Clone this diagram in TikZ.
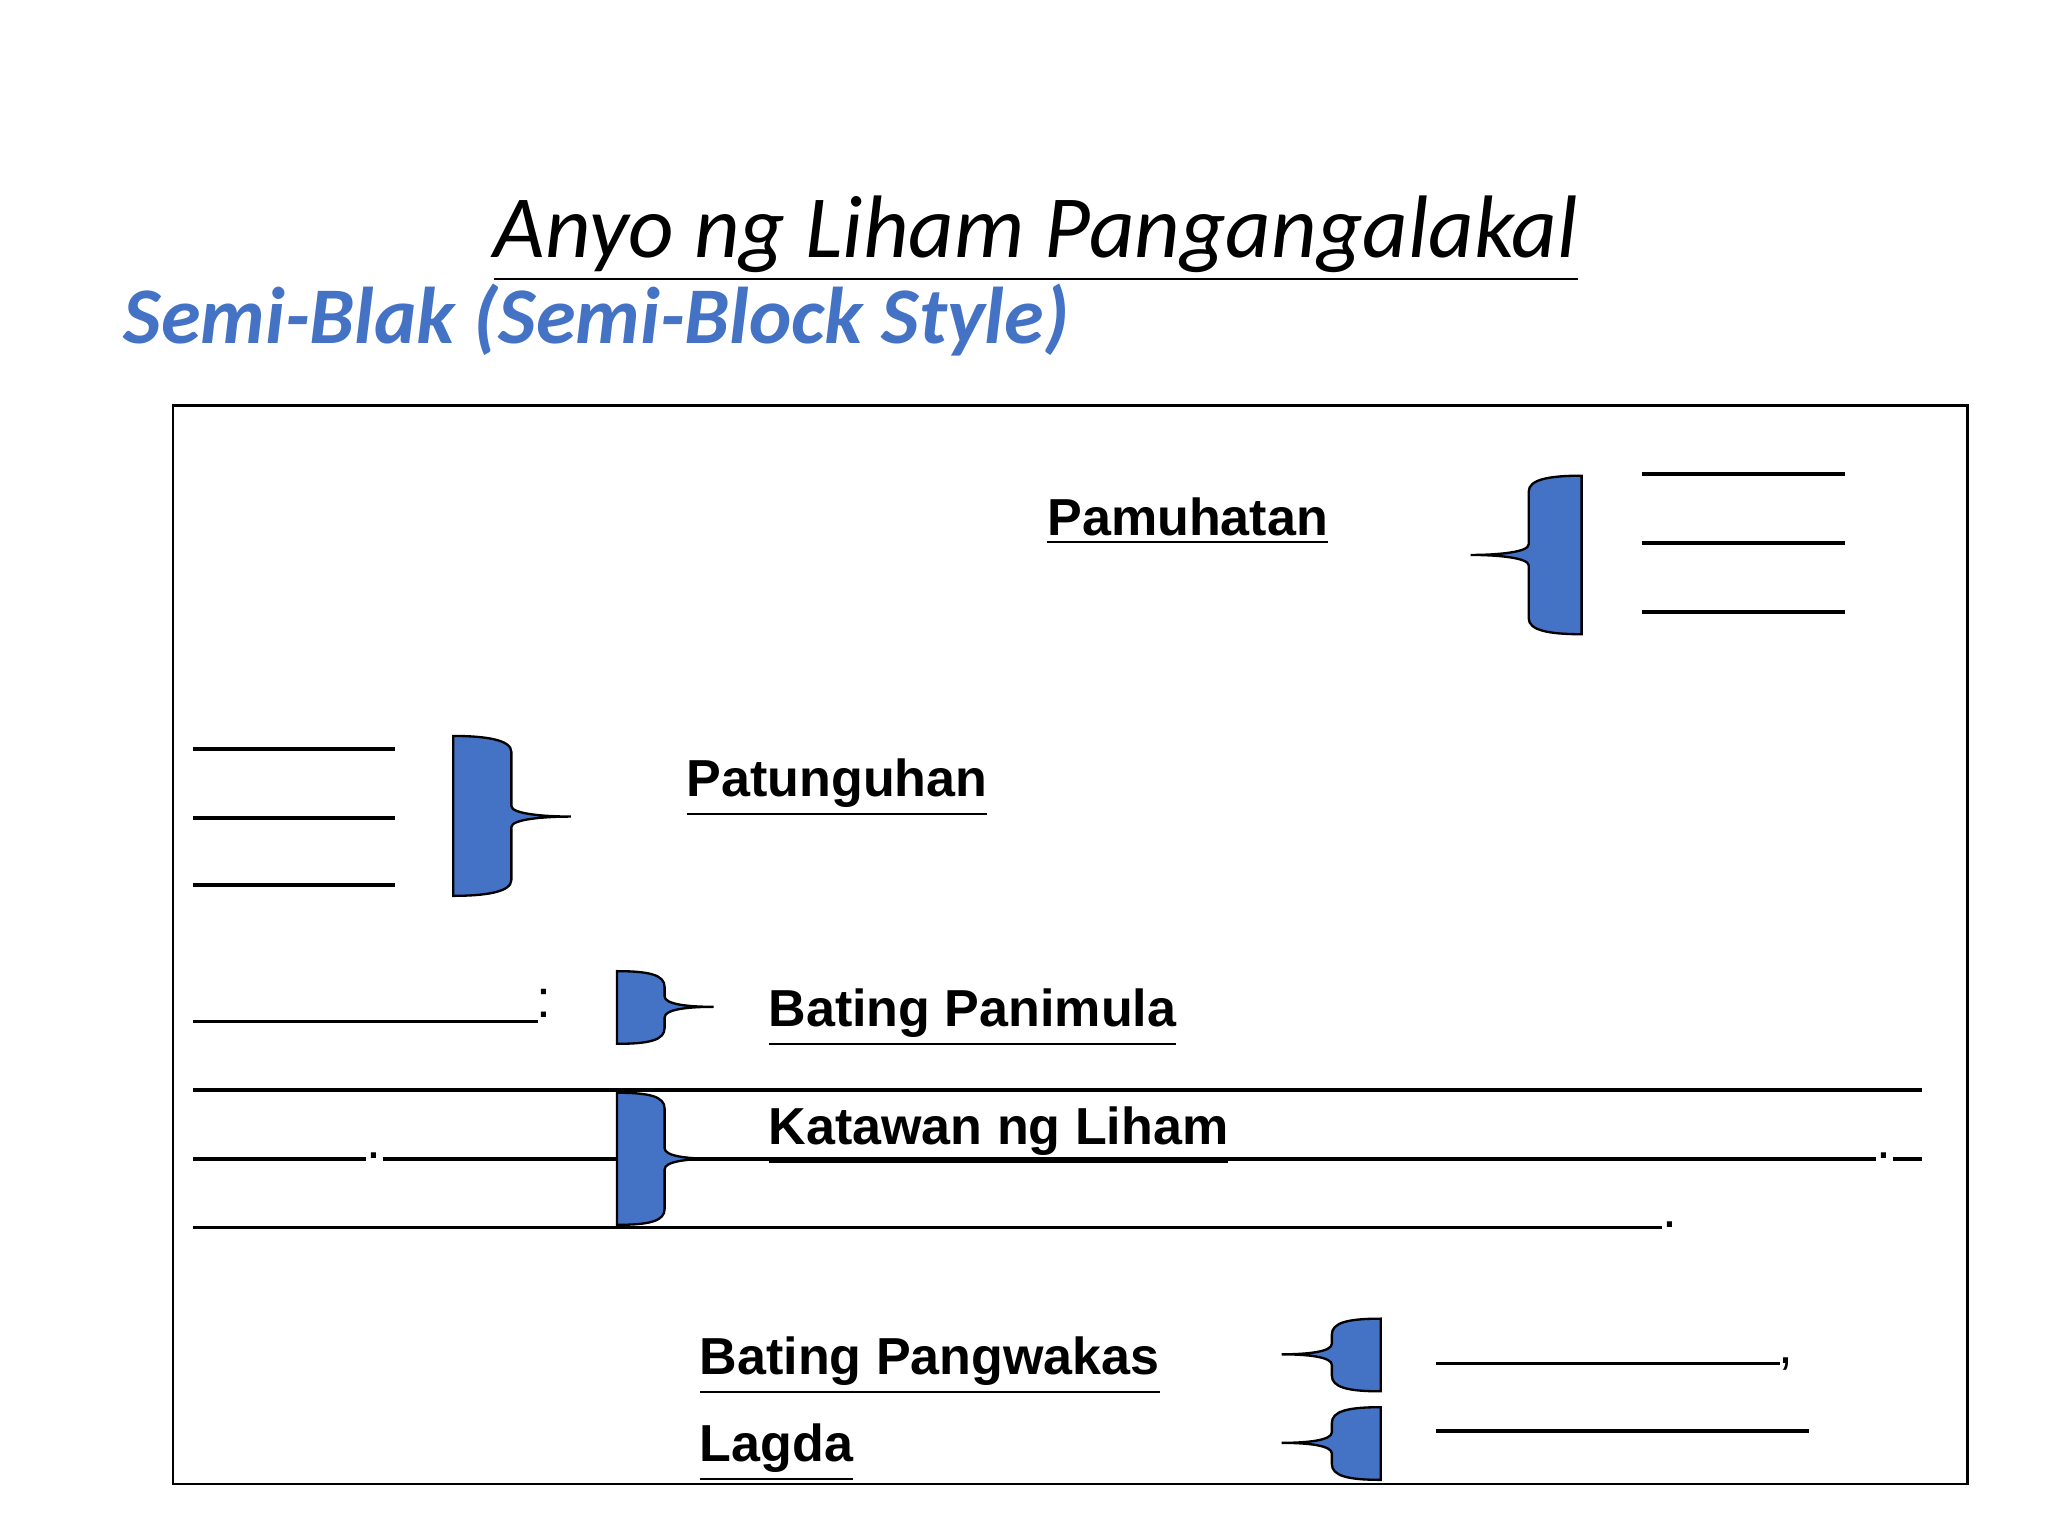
\documentclass[tikz,border=0pt]{standalone}
\usepackage{fontspec}
\setmainfont{Liberation Sans}
\newfontfamily\calib{Carlito}
\definecolor{bblue}{RGB}{68,114,196}
\newcommand{\bracetipleft}[6]{% R B T Y1 Y2 M  (tip to left)
\filldraw[brc] (#1,#4) .. controls (#1-25,#4) and (#2,#4+3) .. (#2,#4+12) -- (#2,#6-8) .. controls (#2,#6-2) and (#3+20,#6) .. (#3,#6) .. controls (#3+20,#6) and (#2,#6+2) .. (#2,#6+8) -- (#2,#5-12) .. controls (#2,#5-3) and (#1-25,#5) .. (#1,#5) -- cycle;}
\newcommand{\bracetipright}[6]{% L B T Y1 Y2 M (tip to right)
\filldraw[brc] (#1,#4) .. controls (#1+25,#4) and (#2,#4+3) .. (#2,#4+12) -- (#2,#6-8) .. controls (#2,#6-2) and (#3-20,#6) .. (#3,#6) .. controls (#3-20,#6) and (#2,#6+2) .. (#2,#6+8) -- (#2,#5-12) .. controls (#2,#5-3) and (#1+25,#5) .. (#1,#5) -- cycle;}
\begin{document}
\begin{tikzpicture}[x=0.01cm,y=-0.01cm,
 brc/.style={fill=bblue,draw=black,line width=0.5pt},
 ln/.style={line width=0.8pt},
 lbl/.style={anchor=base west,inner sep=0pt,font=\bfseries\fontsize{11.2}{13}\selectfont},
 pnc/.style={anchor=base,inner sep=0pt,font=\fontsize{11.5}{13}\selectfont}]
\useasboundingbox[fill=white] (0,0) rectangle (1550,1163);
\node[anchor=base,inner sep=0pt,font=\calib\itshape\fontsize{19.1}{23}\selectfont] (title) at (784,195) {\underline{Anyo ng Liham Pangangalakal}};
\node[anchor=base west,inner sep=0pt,text=bblue,font=\calib\bfseries\itshape\fontsize{17.3}{21}\selectfont] (sub) at (93,260) {Semi-Blak (Semi-Block Style)};
\draw[line width=0.5pt] (131,307) rectangle (1489,1123);
% Pamuhatan
\node[lbl] (pam) at (792,405) {\underline{Pamuhatan}};
\bracetipleft{1197}{1157}{1113}{360}{480}{420}
\foreach \y in {359,411,463} \draw[ln] (1243,\y) -- (1396,\y);
% Patunguhan
\node[lbl] (pat) at (519,603) {\underline{Patunguhan}};
\bracetipright{343}{387}{432}{557}{678}{618}
\foreach \y in {567,619,670} \draw[ln] (146,\y) -- (299,\y);
% Bating panimula
\draw[ln] (146,773) -- (407,773);
\node[pnc] (col) at (412,770) {:};
\bracetipright{467}{503}{540}{735}{790}{762}
\node[lbl] (bp) at (581,777) {\underline{Bating Panimula}};
% body
\draw[ln] (146,825) -- (1455,825);
\draw[ln] (146,877) -- (277,877);
\node[pnc] (d1) at (283,877) {.};
\draw[ln] (290,877) -- (1420,877);
\node[pnc] (d2) at (1426,877) {.};
\draw[ln] (1433,877) -- (1455,877);
\draw[ln] (146,929) -- (1258,929);
\node[pnc] (d3) at (1264,929) {.};
\bracetipright{467}{503}{540}{827}{927}{877}
\node[lbl] (kat) at (581,866) {\underline{Katawan ng Liham}};
% closing
\node[lbl] (bw) at (529,1040) {\underline{Bating Pangwakas}};
\bracetipleft{1045}{1008}{970}{998}{1053}{1025}
\draw[ln] (1087,1032) -- (1347,1032);
\node[pnc] (cm) at (1352,1032) {,};
\node[lbl] (lag) at (529,1106) {\underline{Lagda}};
\bracetipleft{1045}{1008}{970}{1065}{1120}{1092}
\draw[ln] (1087,1083) -- (1369,1083);
\end{tikzpicture}
\end{document}
